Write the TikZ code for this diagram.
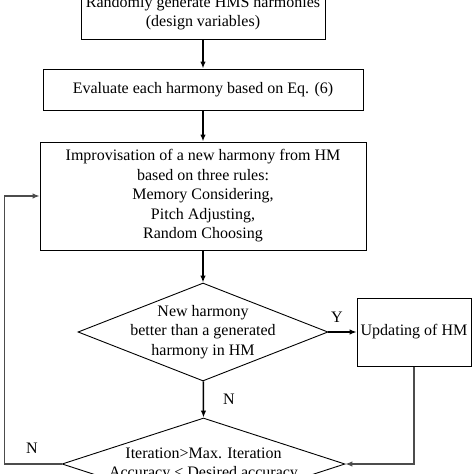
\documentclass[tikz,border=0pt]{standalone}
\usepackage{fontspec}
\setmainfont{Liberation Serif}
\usetikzlibrary{shapes.geometric,arrows.meta}
\begin{document}
\begin{tikzpicture}[x=1pt,y=-1pt,line join=miter,>={Latex[length=7pt,width=5.5pt]}]
	\tikzset{every node/.style={font=\fontsize{16}{19.5}\selectfont},
		procbox/.style={draw,line width=1pt,rectangle,inner sep=0pt,align=center},
		decbox/.style={draw,line width=0.9pt,diamond,inner sep=0pt},
		decnote/.style={align=center,inner sep=0pt},
		flow/.style={->,line width=1.5pt},
		back/.style={->,line width=1.1pt,black!70}}
	\useasboundingbox (0,0) rectangle (474,474);
	\clip (0,0) rectangle (474,474);
	\node[procbox,minimum width=244pt,minimum height=52pt] (init) at (203,13) {Randomly generate HMS harmonies\\(design variables)};
	\node[procbox,minimum width=320pt,minimum height=41pt] (eval) at (203,89.5) {Evaluate each harmony based on Eq. (6)};
	\node[procbox,minimum width=326pt,minimum height=108pt] (impr) at (203,196) {Improvisation of a new harmony from HM\\based on three rules:\\Memory Considering,\\Pitch Adjusting,\\Random Choosing};
	\node[decbox,minimum width=250pt,minimum height=98pt] (better) at (203,332) {};
	\node[decnote] (bettertxt) at (better) {New harmony\\better than a generated\\harmony in HM};
	\node[procbox,minimum width=114pt,minimum height=68pt] (upd) at (414,332) {Updating of HM};
	\node[decbox,minimum width=283pt,minimum height=92pt] (stop) at (203.5,464) {};
	\node[decnote] (stoptxt) at (203.5,464.5) {Iteration>Max. Iteration\\Accuracy < Desired accuracy};
	\draw[flow] (init) -- (eval);
	\draw[flow] (eval) -- (impr);
	\draw[flow] (impr) -- (better);
	\draw[flow] (better) -- (stop.north);
	\draw[->,line width=1.1pt] (better.east) -- (upd.west);
	\draw[back] (upd.south) |- (stop.east);
	\draw[back] (stop.west) -- ++(-57,0) |- (impr.west);
	\node (yes) at (337,317) {Y};
	\node (no1) at (229,399) {N};
	\node (no2) at (32,448) {N};
\end{tikzpicture}
\end{document}
